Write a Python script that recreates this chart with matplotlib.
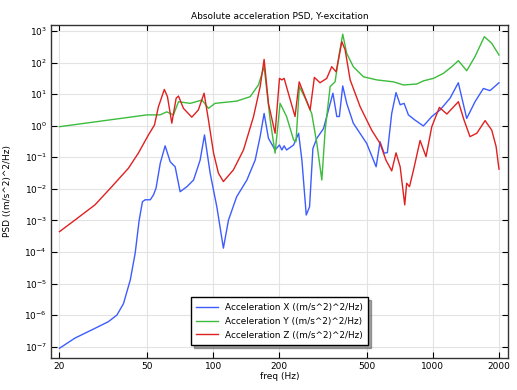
import matplotlib
matplotlib.use("Agg")
import matplotlib.pyplot as plt
from matplotlib.ticker import FixedLocator, NullLocator, FixedFormatter, LogFormatterSciNotation

title = "Absolute acceleration PSD, Y-excitation"
xlabel = "freq (Hz)"
ylabel = "PSD ((m/s^2)^2/Hz)"
labels = ["Acceleration X ((m/s^2)^2/Hz)",
          "Acceleration Y ((m/s^2)^2/Hz)",
          "Acceleration Z ((m/s^2)^2/Hz)"]
xticks = [20, 50, 100, 200, 500, 1000, 2000]
xticklabels = ["20", "50", "100", "200", "500", "1000", "2000"]
yticks = [1e-7, 1e-6, 1e-5, 1e-4, 1e-3, 1e-2, 1e-1, 1e0, 1e1, 1e2, 1e3]

fx = [20, 23.5, 29, 33.4, 36.5, 39.1, 42, 44.2, 46.1, 47.7, 49.1, 51.8, 53.6, 55,
      57.5, 60.5, 63.8, 67.2,
      70.8, 76, 81.5, 87.3, 91.4, 97, 104, 111.4, 117.5, 128, 142.5, 155.4, 163.7,
      170.7, 178.6, 191.5, 200.4, 205.6, 210.5, 216, 232.5, 245, 253.6, 265.4, 274.8,
      284.6, 296.7, 318, 335, 351, 365.6, 375.5, 389, 405.6, 434.6, 500, 552, 575,
      600, 621, 650, 680, 710, 740, 774, 830, 906, 989, 1079, 1197, 1306, 1426, 1556,
      1698, 1820, 2000]
acc_x = [8.9e-8, 1.86e-7, 3.8e-7, 6.2e-7, 1.0e-6, 2.3e-6, 1.3e-5, 9.1e-5, 1.02e-3,
         3.9e-3, 4.5e-3, 4.5e-3, 6.5e-3, 1.05e-2,
         6.5e-2, 0.23, 0.072, 0.050, 8.1e-3, 1.17e-2, 1.9e-2, 0.081, 0.51,
         0.031, 2.7e-3, 1.32e-4, 1.02e-3, 5.6e-3, 1.9e-2, 0.081, 0.45, 2.45, 0.40,
         0.17, 0.245, 0.17, 0.23, 0.17, 0.245, 0.575, 0.081, 1.48e-3, 2.7e-3, 0.19,
         0.40, 0.81, 3.16, 10.7, 1.95, 1.95, 18.2, 5.1, 1.2, 0.275, 0.05, 0.31, 0.135,
         0.14, 2.45, 11.2, 4.6, 5.1, 2.2, 1.5, 0.98, 1.95, 3.16, 7.4, 22.9, 1.7, 5.75,
         15.1, 12.9, 22.9]

fy = [20, 50, 57.4, 61.6, 66, 69.6, 78.7, 89, 95.3, 102, 128, 147.5, 160.8, 170.7,
      181.8, 191.5, 201.8, 216, 232.5, 238.4, 247, 262.5, 281, 296.6, 312.5, 323.6,
      341, 359, 375.5, 389, 405.6, 434.6, 483, 556, 662, 735, 845, 906, 1007, 1118,
      1219, 1307, 1426, 1556, 1715, 1854, 2000]
acc_y = [0.93, 2.2, 2.2, 2.75, 2.2, 5.75, 5.1, 6.5, 3.55, 5.1, 6.0, 8.3, 19.5, 74,
         1.55, 0.135, 5.1, 1.95, 0.355, 0.31, 17.4, 7.4, 2.45, 0.275, 0.019, 0.72,
         17.4, 24.5, 195, 794, 195, 74, 35.5, 28.2, 24.5, 19.5, 20.9, 26.3, 31.6,
         45.7, 74, 115, 55, 155, 660, 407, 174]

fz = [20, 23.5, 29, 34.6, 41.2, 45.7, 50.8, 54.1, 56.4, 60, 62, 64.9, 67.9, 69.6,
      73.3, 80, 85.7,
      91, 95.3, 100.5, 105.8, 111.4, 123.8, 137.5, 152.8, 163.8, 170.7, 178.6, 191.5,
      200.5, 205.6, 210.5, 236, 246.5, 276.5, 289, 306.6, 329, 346.6, 363, 385.5, 399,
      420.5, 467, 527, 575, 612, 650, 680, 710, 745, 760, 783, 817, 875, 931, 989,
      1071, 1158, 1307, 1387, 1476, 1585, 1729, 1854, 1940, 2000]
acc_z = [4.4e-4, 1.02e-3, 3.1e-3, 0.0117, 0.045, 0.135, 0.51, 1.05, 3.98, 14.1, 8.3,
         1.2, 7.4, 8.7,
         3.55, 1.86, 3.16, 10.7, 1.5, 0.135, 0.031, 0.017, 0.04, 0.17, 1.95, 17.4, 126,
         5.1, 0.575, 31.6, 28.2, 31.6, 1.95, 24.5, 3.16, 33.9, 22.9, 31.6, 74, 51, 457,
         251, 28.2, 3.98, 0.72, 0.275, 0.081, 0.037, 0.138, 0.05, 3.1e-3, 0.015, 0.0117,
         0.04, 0.34, 0.105, 0.93, 3.8, 2.34, 5.75, 1.5, 0.45, 0.575, 1.45, 0.72, 0.22,
         0.042]

colors = ["#3d5cff", "#3cbc3c", "#e02020"]

fig = plt.figure(figsize=(5.17, 3.90), dpi=100)
ax = fig.add_axes([51/517, 1-357.7/390, (508-51)/517, (357.7-25)/390])

for f, v, c, lab in zip([fx, fy, fz], [acc_x, acc_y, acc_z], colors, labels):
    ax.plot(f, v, color=c, lw=1.0, label=lab)

ax.set_xscale("log")
ax.set_yscale("log")
ax.set_xlim(18.3, 2198)
ax.set_ylim(10**-7.35, 10**3.19)
ax.xaxis.set_major_locator(FixedLocator(xticks))
ax.xaxis.set_major_formatter(FixedFormatter(xticklabels))
ax.xaxis.set_minor_locator(NullLocator())
ax.yaxis.set_major_locator(FixedLocator(yticks))
ax.yaxis.set_major_formatter(LogFormatterSciNotation())
ax.yaxis.set_minor_locator(NullLocator())
ax.tick_params(which="both", direction="in", top=True, right=True, labelsize=6.5,
               length=4, width=0.8, pad=3)
ax.grid(True, color="#e3e3e3", lw=0.8)
ax.set_axisbelow(True)
for s in ax.spines.values():
    s.set_linewidth(1.0)
    s.set_color("#333333")

ax.set_title(title, fontsize=6.5, pad=4)
ax.set_xlabel(xlabel, fontsize=6.5, labelpad=1)
ax.set_ylabel(ylabel, fontsize=6.5)
ax.yaxis.set_label_coords(-0.086, 0.5)

leg = ax.legend(loc="lower center", bbox_to_anchor=(0.5, 0.025), fontsize=6.4,
                frameon=True, fancybox=False, shadow=True, edgecolor="black",
                handlelength=2.4, borderpad=0.6, labelspacing=0.55)
leg.get_frame().set_linewidth(1.0)

fig.savefig("out.png", dpi=100)
